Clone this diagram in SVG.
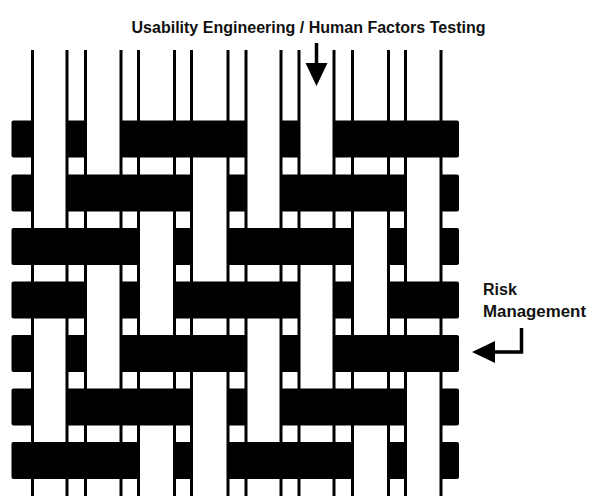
<svg xmlns="http://www.w3.org/2000/svg" width="600" height="504" viewBox="0 0 600 504">
  <style>
    .weft { fill: #000; }
    .cell { fill: #fff; }
    .thread { stroke: #000; stroke-width: 3; fill: none; }
    .label { font-family: "Liberation Sans", Arial, sans-serif; font-weight: bold; font-size: 16px; fill: #111; }
    .arrow { stroke: #000; stroke-width: 3.5; fill: none; }
  </style>
  <defs>
    <marker id="head" markerUnits="userSpaceOnUse" viewBox="0 0 24 24" markerWidth="24" markerHeight="24" refX="7" refY="12" orient="auto">
      <path d="M0,1 L23,12 L0,23 Z" fill="#000"/>
    </marker>
  </defs>
  <rect width="600" height="504" fill="#fff"/>

  <g id="weft-rows">
    <rect class="weft" x="11.5" y="120.5" width="447.5" height="37" rx="2"/>
    <rect class="weft" x="11.5" y="174.5" width="447.5" height="37" rx="2"/>
    <rect class="weft" x="11.5" y="228" width="447.5" height="37" rx="2"/>
    <rect class="weft" x="11.5" y="281.5" width="447.5" height="37" rx="2"/>
    <rect class="weft" x="11.5" y="335" width="447.5" height="37" rx="2"/>
    <rect class="weft" x="11.5" y="388.5" width="447.5" height="37" rx="2"/>
    <rect class="weft" x="11.5" y="442" width="447.5" height="37" rx="2"/>
  </g>

  <g id="warp-over-cells">
    <!-- row 0: warps 0,1,4,5 -->
    <rect class="cell" x="32.5" y="120" width="34.5" height="38"/>
    <rect class="cell" x="85.5" y="120" width="35.5" height="38"/>
    <rect class="cell" x="246" y="120" width="35" height="38"/>
    <rect class="cell" x="299" y="120" width="35" height="38"/>
    <!-- row 1: warps 0,3,4,7 -->
    <rect class="cell" x="32.5" y="174" width="34.5" height="38"/>
    <rect class="cell" x="191.5" y="174" width="36.5" height="38"/>
    <rect class="cell" x="246" y="174" width="35" height="38"/>
    <rect class="cell" x="405.5" y="174" width="35.5" height="38"/>
    <!-- row 2: warps 2,3,6,7 -->
    <rect class="cell" x="138.5" y="227.5" width="36" height="38"/>
    <rect class="cell" x="191.5" y="227.5" width="36.5" height="38"/>
    <rect class="cell" x="352.5" y="227.5" width="36" height="38"/>
    <rect class="cell" x="405.5" y="227.5" width="35.5" height="38"/>
    <!-- row 3: warps 1,2,5,6 -->
    <rect class="cell" x="85.5" y="281" width="35.5" height="38"/>
    <rect class="cell" x="138.5" y="281" width="36" height="38"/>
    <rect class="cell" x="299" y="281" width="35" height="38"/>
    <rect class="cell" x="352.5" y="281" width="36" height="38"/>
    <!-- row 4: warps 0,1,4,5 -->
    <rect class="cell" x="32.5" y="334.5" width="34.5" height="38"/>
    <rect class="cell" x="85.5" y="334.5" width="35.5" height="38"/>
    <rect class="cell" x="246" y="334.5" width="35" height="38"/>
    <rect class="cell" x="299" y="334.5" width="35" height="38"/>
    <!-- row 5: warps 0,3,4,7 -->
    <rect class="cell" x="32.5" y="388" width="34.5" height="38"/>
    <rect class="cell" x="191.5" y="388" width="36.5" height="38"/>
    <rect class="cell" x="246" y="388" width="35" height="38"/>
    <rect class="cell" x="405.5" y="388" width="35.5" height="38"/>
    <!-- row 6: warps 2,3,6,7 -->
    <rect class="cell" x="138.5" y="441.5" width="36" height="38"/>
    <rect class="cell" x="191.5" y="441.5" width="36.5" height="38"/>
    <rect class="cell" x="352.5" y="441.5" width="36" height="38"/>
    <rect class="cell" x="405.5" y="441.5" width="35.5" height="38"/>
  </g>

  <g id="warp-threads">
    <line class="thread" x1="32.5" y1="50" x2="32.5" y2="496"/>
    <line class="thread" x1="67" y1="50" x2="67" y2="496"/>
    <line class="thread" x1="85.5" y1="50" x2="85.5" y2="496"/>
    <line class="thread" x1="121" y1="50" x2="121" y2="496"/>
    <line class="thread" x1="138.5" y1="50" x2="138.5" y2="496"/>
    <line class="thread" x1="174.5" y1="50" x2="174.5" y2="496"/>
    <line class="thread" x1="191.5" y1="50" x2="191.5" y2="496"/>
    <line class="thread" x1="228" y1="50" x2="228" y2="496"/>
    <line class="thread" x1="246" y1="50" x2="246" y2="496"/>
    <line class="thread" x1="281" y1="50" x2="281" y2="496"/>
    <line class="thread" x1="299" y1="50" x2="299" y2="496"/>
    <line class="thread" x1="334" y1="50" x2="334" y2="496"/>
    <line class="thread" x1="352.5" y1="50" x2="352.5" y2="496"/>
    <line class="thread" x1="388.5" y1="50" x2="388.5" y2="496"/>
    <line class="thread" x1="405.5" y1="50" x2="405.5" y2="496"/>
    <line class="thread" x1="441" y1="50" x2="441" y2="496"/>
  </g>

  <g id="label-usability">
    <text class="label" x="131.5" y="33" textLength="354" lengthAdjust="spacingAndGlyphs">Usability Engineering / Human Factors Testing</text>
  </g>
  <g id="label-risk">
    <text class="label" x="483" y="294.5">Risk</text>
    <text class="label" x="483" y="317" textLength="103" lengthAdjust="spacingAndGlyphs">Management</text>
  </g>

  <g id="connectors">
    <path class="arrow" d="M316.5,43 V70" marker-end="url(#head)"/>
    <path class="arrow" d="M521.5,328 V352 H488" marker-end="url(#head)"/>
  </g>
</svg>
